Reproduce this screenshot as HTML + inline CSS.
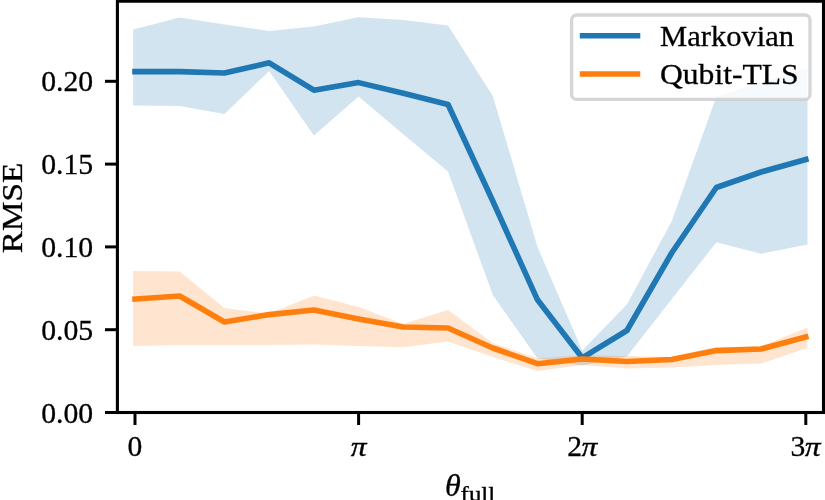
<!DOCTYPE html>
<html lang="en">
<head>
<meta charset="utf-8">
<title>RMSE vs theta_full</title>
<style>
html,body{margin:0;padding:0;background:#ffffff;}
body{width:825px;height:500px;overflow:hidden;font-family:"Liberation Serif","DejaVu Serif",serif;}
svg{display:block;}
</style>
</head>
<body>
<svg width="825" height="500" viewBox="0 0 825 500">
<rect x="0" y="0" width="825" height="500" fill="#ffffff"/>
<polygon points="133.1,29.4 179.7,17.6 224.4,24.4 269.2,31.0 313.9,26.4 358.6,17.2 403.3,20.0 448.0,25.6 492.8,96.0 537.5,247.0 582.2,350.5 626.9,304.5 671.6,221.5 716.4,96.5 761.1,82.3 807.5,68.5 807.5,244.4 761.1,253.8 716.4,242.2 671.6,299.3 626.9,356.5 582.2,365.6 537.5,358.5 492.8,295.0 448.0,171.5 403.3,134.3 358.6,96.4 313.9,135.6 269.2,71.0 224.4,114.0 179.7,106.0 133.1,105.6" fill="#1f77b4" fill-opacity="0.2"/>
<polygon points="133.1,271.0 179.7,271.6 224.4,308.0 269.2,313.5 313.9,295.4 358.6,307.0 403.3,324.0 448.0,310.0 492.8,343.0 537.5,358.2 582.2,355.0 626.9,356.0 671.6,357.0 716.4,347.0 761.1,346.4 807.5,327.6 807.5,348.0 761.1,363.6 716.4,365.0 671.6,367.5 626.9,368.6 582.2,365.0 537.5,371.0 492.8,357.0 448.0,341.6 403.3,347.2 358.6,346.0 313.9,344.4 269.2,345.0 224.4,345.0 179.7,345.0 133.1,346.0" fill="#ff7f0e" fill-opacity="0.2"/>
<polyline points="132.20,71.60 179.72,71.60 224.44,73.00 269.16,62.80 313.88,90.20 358.60,82.60 403.32,93.30 448.04,104.50 492.76,201.00 537.48,299.80 582.20,357.80 626.92,330.50 671.64,253.00 716.36,187.50 761.08,172.00 808.50,158.75" fill="none" stroke="#1f77b4" stroke-width="5.6" stroke-linejoin="round" stroke-linecap="butt"/>
<polyline points="132.21,299.19 179.72,296.00 224.44,322.00 269.16,314.60 313.88,310.00 358.60,319.00 403.32,327.00 448.04,328.00 492.76,348.00 537.48,363.70 582.20,359.00 626.92,361.50 671.64,359.50 716.36,350.60 761.08,349.00 808.50,336.27" fill="none" stroke="#ff7f0e" stroke-width="5.6" stroke-linejoin="round" stroke-linecap="butt"/>
<line x1="105" y1="412.5" x2="117" y2="412.5" stroke="#000" stroke-width="3"/>
<line x1="105" y1="329.7" x2="117" y2="329.7" stroke="#000" stroke-width="3"/>
<line x1="105" y1="246.9" x2="117" y2="246.9" stroke="#000" stroke-width="3"/>
<line x1="105" y1="164.1" x2="117" y2="164.1" stroke="#000" stroke-width="3"/>
<line x1="105" y1="81.3" x2="117" y2="81.3" stroke="#000" stroke-width="3"/>
<line x1="135" y1="413" x2="135" y2="425" stroke="#000" stroke-width="3"/>
<line x1="358.6" y1="413" x2="358.6" y2="425" stroke="#000" stroke-width="3"/>
<line x1="582.2" y1="413" x2="582.2" y2="425" stroke="#000" stroke-width="3"/>
<line x1="805.8" y1="413" x2="805.8" y2="425" stroke="#000" stroke-width="3"/>
<rect x="117.4" y="1.2" width="706.1" height="411.3" fill="none" stroke="#000" stroke-width="3.1"/>
<text x="41.2" y="422.5" font-family='"Liberation Serif", "DejaVu Serif", serif' font-size="28.4" textLength="52" lengthAdjust="spacingAndGlyphs" fill="#000" stroke="#000" stroke-width="0.3">0.00</text>
<text x="41.2" y="339.7" font-family='"Liberation Serif", "DejaVu Serif", serif' font-size="28.4" textLength="52" lengthAdjust="spacingAndGlyphs" fill="#000" stroke="#000" stroke-width="0.3">0.05</text>
<text x="41.2" y="256.9" font-family='"Liberation Serif", "DejaVu Serif", serif' font-size="28.4" textLength="52" lengthAdjust="spacingAndGlyphs" fill="#000" stroke="#000" stroke-width="0.3">0.10</text>
<text x="41.2" y="174.1" font-family='"Liberation Serif", "DejaVu Serif", serif' font-size="28.4" textLength="52" lengthAdjust="spacingAndGlyphs" fill="#000" stroke="#000" stroke-width="0.3">0.15</text>
<text x="41.2" y="91.3" font-family='"Liberation Serif", "DejaVu Serif", serif' font-size="28.4" textLength="52" lengthAdjust="spacingAndGlyphs" fill="#000" stroke="#000" stroke-width="0.3">0.20</text>
<text x="127.6" y="456" font-family='"Liberation Serif", "DejaVu Serif", serif' font-size="28.4" textLength="14.8" lengthAdjust="spacingAndGlyphs" fill="#000" stroke="#000" stroke-width="0.3">0</text>
<text x="350.8" y="455.8" font-family='"Liberation Serif", "DejaVu Serif", serif' font-size="26.5" font-style="italic" textLength="15.8" lengthAdjust="spacingAndGlyphs" fill="#000" stroke="#000" stroke-width="0.3">π</text>
<text x="567.2" y="456" font-family='"Liberation Serif", "DejaVu Serif", serif' font-size="28.4" textLength="14.8" lengthAdjust="spacingAndGlyphs" fill="#000" stroke="#000" stroke-width="0.3">2</text>
<text x="581.5" y="455.8" font-family='"Liberation Serif", "DejaVu Serif", serif' font-size="26.5" font-style="italic" textLength="15.8" lengthAdjust="spacingAndGlyphs" fill="#000" stroke="#000" stroke-width="0.3">π</text>
<text x="790.4" y="456" font-family='"Liberation Serif", "DejaVu Serif", serif' font-size="28.4" textLength="14.8" lengthAdjust="spacingAndGlyphs" fill="#000" stroke="#000" stroke-width="0.3">3</text>
<text x="804.8" y="455.8" font-family='"Liberation Serif", "DejaVu Serif", serif' font-size="26.5" font-style="italic" textLength="15.8" lengthAdjust="spacingAndGlyphs" fill="#000" stroke="#000" stroke-width="0.3">π</text>
<text transform="translate(21.9,253.2) rotate(-90)" font-family='"Liberation Serif", "DejaVu Serif", serif' font-size="30.4" textLength="90.6" lengthAdjust="spacingAndGlyphs" fill="#000" stroke="#000" stroke-width="0.3">RMSE</text>
<text x="445" y="495.6" font-family='"Liberation Serif", "DejaVu Serif", serif' font-size="32" font-style="italic" fill="#000" stroke="#000" stroke-width="0.3">θ</text>
<text x="460.6" y="500.5" font-family='"Liberation Serif", "DejaVu Serif", serif' font-size="21.6" textLength="34.6" lengthAdjust="spacingAndGlyphs" fill="#000" stroke="#000" stroke-width="0.3">full</text>
<rect x="571.6" y="15" width="238.4" height="84.4" rx="5" ry="5" fill="#ffffff" fill-opacity="0.8" stroke="#cccccc" stroke-opacity="0.8" stroke-width="3.3"/>
<line x1="579.8" y1="35.7" x2="640.3" y2="35.7" stroke="#1f77b4" stroke-width="5.6"/>
<line x1="579.8" y1="74" x2="640.3" y2="74" stroke="#ff7f0e" stroke-width="5.6"/>
<text x="660" y="45.6" font-family='"Liberation Serif", "DejaVu Serif", serif' font-size="29" textLength="134" lengthAdjust="spacingAndGlyphs" fill="#000" stroke="#000" stroke-width="0.3">Markovian</text>
<text x="660" y="83.9" font-family='"Liberation Serif", "DejaVu Serif", serif' font-size="29" textLength="138.6" lengthAdjust="spacingAndGlyphs" fill="#000" stroke="#000" stroke-width="0.3">Qubit-TLS</text>
</svg>
</body>
</html>
